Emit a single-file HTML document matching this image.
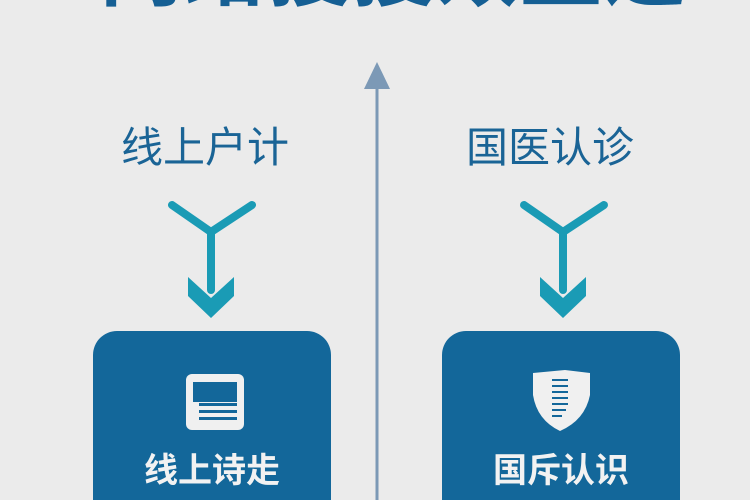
<!DOCTYPE html>
<html><head><meta charset="utf-8"><style>
html,body{margin:0;width:750px;height:500px;overflow:hidden}
body{background:#ebebeb;position:relative;font-family:"Liberation Sans","Noto Sans CJK SC",sans-serif}
.t{position:absolute;white-space:nowrap;text-align:center}
.box{position:absolute;top:331px;width:238px;height:169px;background:#13679a;border-radius:24px 24px 0 0}
</style></head><body>
<div class="t" style="left:100px;top:-96px;width:540px;font-size:82px;font-weight:bold;color:#155f94;letter-spacing:2px">网络搜搜效益适</div>
<div class="t" style="left:100px;top:114px;width:210px;font-size:42px;color:#1a6496">线上户计</div>
<div class="t" style="left:445px;top:114px;width:210px;font-size:42px;color:#1a6496">国医认诊</div>
<div class="box" style="left:93px"></div>
<div class="box" style="left:442px"></div>
<svg width="750" height="500" style="position:absolute;left:0;top:0">
<line x1="377" y1="86" x2="377" y2="500" stroke="#7c99b6" stroke-width="3"/>
<polygon points="377,62 364,89 390,89" fill="#7c99b6"/>
<g stroke="#1a9bb5" stroke-width="8" stroke-linecap="round" fill="none">
<polyline points="172,205 211,232 252,205"/><line x1="211" y1="232" x2="211" y2="290"/>
<polyline points="524,205 563,232 604,205"/><line x1="563" y1="232" x2="563" y2="290"/>
</g>
<polygon points="188,277 211,298 234,277 234,296 211,318 188,296" fill="#1a9bb5"/>
<polygon points="540,277 563,298 586,277 586,296 563,318 540,296" fill="#1a9bb5"/>
<g fill="#f0f0f0">
<rect x="186" y="374" width="58" height="56" rx="6"/>
<rect x="193" y="382" width="44" height="20" fill="#13679a"/>
<rect x="199" y="403" width="38" height="3" fill="#13679a"/>
<rect x="199" y="410" width="38" height="3" fill="#13679a"/>
<rect x="199" y="417" width="38" height="3" fill="#13679a"/>
<path d="M533,373 L565,370 L590,373 L590,395 Q585,420 560,431 Q537,420 533,395 Z"/>
</g>
<g stroke="#13679a" stroke-width="2">
<line x1="552" y1="380" x2="568" y2="380"/><line x1="552" y1="386" x2="568" y2="386"/>
<line x1="552" y1="392" x2="568" y2="392"/><line x1="552" y1="398" x2="568" y2="398"/>
<line x1="552" y1="404" x2="568" y2="404"/><line x1="552" y1="410" x2="566" y2="410"/>
<line x1="552" y1="416" x2="562" y2="416"/>
</g>
</svg>
<div class="t" style="left:93px;top:443px;width:238px;font-size:34px;font-weight:bold;color:#f2f2f2">线上诗歨</div>
<div class="t" style="left:442px;top:443px;width:238px;font-size:34px;font-weight:bold;color:#f2f2f2">国斥认识</div>
</body></html>
